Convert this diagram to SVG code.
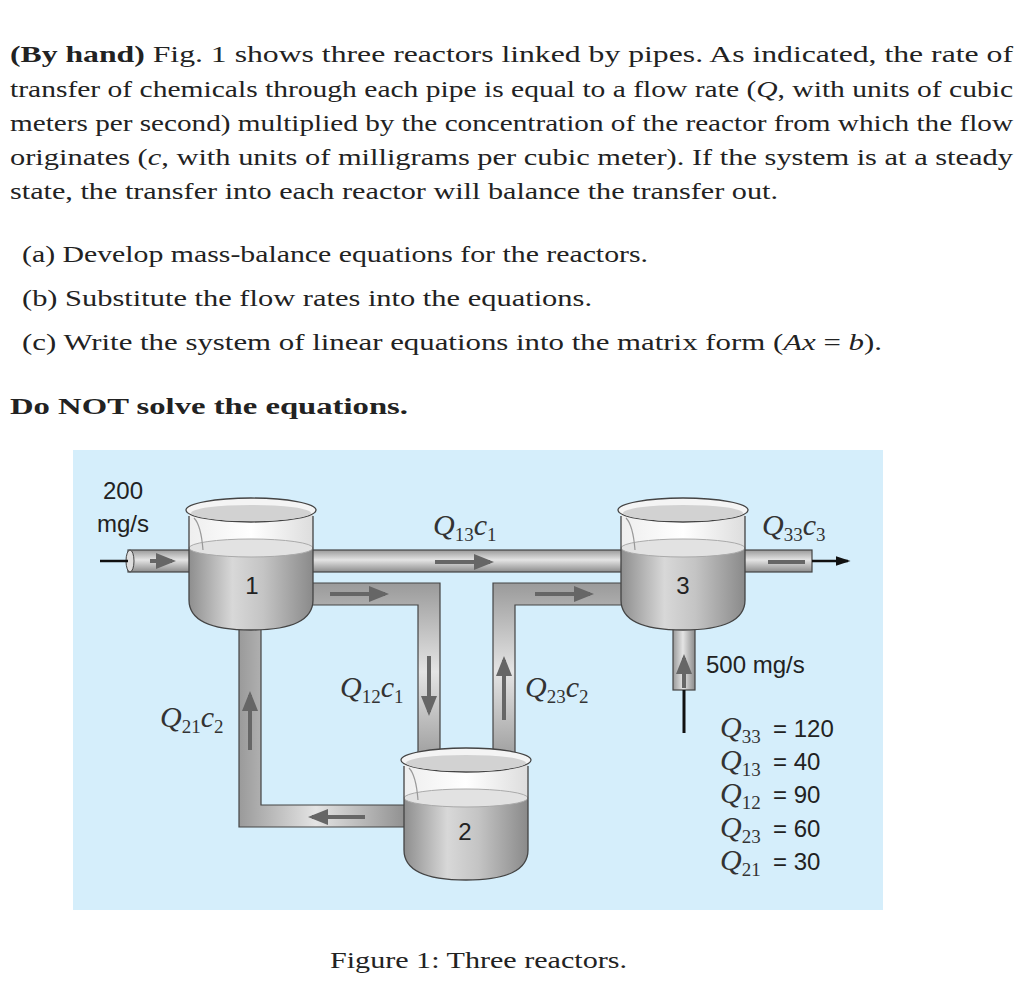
<svg xmlns="http://www.w3.org/2000/svg" width="1024" height="986" viewBox="0 0 1024 986">
<style>
.t{font-family:"Liberation Serif",serif;font-size:24px;fill:#222}
.b{font-weight:bold}
.s{font-family:"Liberation Sans",Arial,sans-serif;font-size:24px;fill:#222}
.m{font-family:"Liberation Serif",serif;font-style:italic;font-size:30px;fill:#333}
.sub{font-size:19px;font-style:normal}
.pipe{fill:url(#pg);stroke:#444;stroke-width:1.2}
.pipev{fill:url(#pgv);stroke:#444;stroke-width:1.2}
.arr{stroke:#666;stroke-width:4;fill:none;marker-end:url(#ah)}
</style>
<defs>
<linearGradient id="pg" x1="0" y1="0" x2="0" y2="1"><stop offset="0" stop-color="#9a9a9a"/><stop offset="0.45" stop-color="#e4e4e4"/><stop offset="1" stop-color="#8c8c8c"/></linearGradient>
<linearGradient id="pgv" x1="0" y1="0" x2="1" y2="0"><stop offset="0" stop-color="#9a9a9a"/><stop offset="0.45" stop-color="#e4e4e4"/><stop offset="1" stop-color="#8c8c8c"/></linearGradient>
<linearGradient id="bg" x1="0" y1="0" x2="1" y2="0"><stop offset="0" stop-color="#8e8e8e"/><stop offset="0.35" stop-color="#d8d8d8"/><stop offset="0.6" stop-color="#c4c4c4"/><stop offset="1" stop-color="#8a8a8a"/></linearGradient>
<linearGradient id="rg" x1="0" y1="0" x2="1" y2="0"><stop offset="0" stop-color="#eee"/><stop offset="0.5" stop-color="#fff"/><stop offset="1" stop-color="#ddd"/></linearGradient>
<marker id="ah" markerWidth="5" markerHeight="4" refX="4" refY="2" orient="auto" markerUnits="strokeWidth"><path d="M0,0L5,2L0,4z" fill="#666"/></marker>
<marker id="ahk" markerWidth="6" markerHeight="4" refX="5" refY="2" orient="auto" markerUnits="strokeWidth"><path d="M0,0L6,2L0,4z" fill="#111"/></marker>
<g id="beaker">
<path d="M-62,-20 L-62,18 Q0,28 62,18 L62,-20 Z" fill="url(#rg)"/>
<path d="M-62,18 L-62,70 Q-62,100 0,100 Q62,100 62,70 L62,18 Q0,28 -62,18 Z" fill="url(#bg)"/>
<ellipse cx="0" cy="18" rx="62" ry="9" fill="#e2e2e2" stroke="#aaa" stroke-width="1"/>
<path d="M-62,-14 L-62,70 Q-62,100 0,100 Q62,100 62,70 L62,-14" fill="none" stroke="#444" stroke-width="1.3"/>
<ellipse cx="0" cy="-20" rx="65" ry="12" fill="#f4f4f4" stroke="#444" stroke-width="1.3"/>
<ellipse cx="0" cy="-17" rx="60" ry="8" fill="#d2d2d2"/>
<path d="M-57,-12 Q-50,-5 -48,20" stroke="#999" fill="none" stroke-width="1.2"/>
</g>
</defs>
<rect width="1024" height="986" fill="#fff"/>
<g id="text">
<text class="t" x="10" y="62" textLength="1003" lengthAdjust="spacingAndGlyphs"><tspan class="b">(By hand)</tspan> Fig. 1 shows three reactors linked by pipes. As indicated, the rate of</text>
<text class="t" x="10" y="97" textLength="1003" lengthAdjust="spacingAndGlyphs">transfer of chemicals through each pipe is equal to a flow rate (<tspan font-style="italic">Q</tspan>, with units of cubic</text>
<text class="t" x="10" y="131" textLength="1003" lengthAdjust="spacingAndGlyphs">meters per second) multiplied by the concentration of the reactor from which the flow</text>
<text class="t" x="10" y="165" textLength="1003" lengthAdjust="spacingAndGlyphs">originates (<tspan font-style="italic">c</tspan>, with units of milligrams per cubic meter). If the system is at a steady</text>
<text class="t" x="10" y="199" textLength="768" lengthAdjust="spacingAndGlyphs">state, the transfer into each reactor will balance the transfer out.</text>
<text class="t" x="22" y="262" textLength="626" lengthAdjust="spacingAndGlyphs">(a)  Develop mass-balance equations for the reactors.</text>
<text class="t" x="22" y="306" textLength="570" lengthAdjust="spacingAndGlyphs">(b)  Substitute the flow rates into the equations.</text>
<text class="t" x="22" y="350" textLength="860" lengthAdjust="spacingAndGlyphs">(c)  Write the system of linear equations into the matrix form (<tspan font-style="italic">Ax</tspan> = <tspan font-style="italic">b</tspan>).</text>
<text class="t b" x="10" y="414" textLength="398" lengthAdjust="spacingAndGlyphs">Do NOT solve the equations.</text>
<text class="t" x="330" y="968" textLength="297" lengthAdjust="spacingAndGlyphs">Figure 1: Three reactors.</text>
</g>
<rect x="73" y="450" width="810" height="460" fill="#d5eefb"/>
<g id="connectors">
<rect class="pipe" x="128" y="550" width="66" height="22"/>
<ellipse cx="130" cy="561" rx="4" ry="11" fill="#ddd" stroke="#444"/>
<line x1="100" y1="561" x2="128" y2="561" stroke="#111" stroke-width="2.5"/>
<rect class="pipe" x="308" y="550" width="316" height="22"/>
<path class="pipe" d="M308,583 L440,583 L440,780 L418,780 L418,605 L308,605 Z"/>
<path class="pipev" d="M239,628 L261,628 L261,805 L410,805 L410,827 L239,827 Z"/>
<path class="pipe" d="M493,780 L493,583 L624,583 L624,605 L515,605 L515,780 Z"/>
<rect class="pipe" x="742" y="550" width="70" height="22"/>
<line x1="812" y1="561" x2="848" y2="561" stroke="#111" stroke-width="2.5" marker-end="url(#ahk)"/>
<rect class="pipev" x="673" y="625" width="22" height="65"/>
<line x1="684" y1="733" x2="684" y2="690" stroke="#111" stroke-width="3"/>
<line class="arr" x1="150" y1="561" x2="172" y2="561"/>
<line class="arr" x1="435" y1="562" x2="490" y2="562"/>
<line class="arr" x1="330" y1="594" x2="385" y2="594"/>
<line class="arr" x1="429" y1="656" x2="429" y2="712"/>
<line class="arr" x1="250" y1="750" x2="250" y2="695"/>
<line class="arr" x1="365" y1="817" x2="312" y2="817"/>
<line class="arr" x1="504" y1="720" x2="504" y2="660"/>
<line class="arr" x1="535" y1="594" x2="590" y2="594"/>
<line x1="768" y1="562" x2="805" y2="562" stroke="#666" stroke-width="4"/>
<line class="arr" x1="684" y1="688" x2="684" y2="658"/>
</g>
<g id="reactor1"><use href="#beaker" x="251" y="530"/><text class="s" x="252" y="594" text-anchor="middle">1</text></g>
<g id="reactor2"><use href="#beaker" x="466" y="780"/><text class="s" x="465" y="840" text-anchor="middle">2</text></g>
<g id="reactor3"><use href="#beaker" x="683" y="530"/><text class="s" x="683" y="594" text-anchor="middle">3</text></g>
<g id="labels">
<text class="s" x="103" y="499">200</text>
<text class="s" x="97" y="532">mg/s</text>
<text class="m" x="433" y="535">Q<tspan class="sub" dy="6">13</tspan><tspan dy="-6">c</tspan><tspan class="sub" dy="6">1</tspan></text>
<text class="m" x="762" y="535">Q<tspan class="sub" dy="6">33</tspan><tspan dy="-6">c</tspan><tspan class="sub" dy="6">3</tspan></text>
<text class="m" x="340" y="697">Q<tspan class="sub" dy="6">12</tspan><tspan dy="-6">c</tspan><tspan class="sub" dy="6">1</tspan></text>
<text class="m" x="525" y="697">Q<tspan class="sub" dy="6">23</tspan><tspan dy="-6">c</tspan><tspan class="sub" dy="6">2</tspan></text>
<text class="m" x="160" y="727">Q<tspan class="sub" dy="6">21</tspan><tspan dy="-6">c</tspan><tspan class="sub" dy="6">2</tspan></text>
<text class="s" x="706" y="673">500 mg/s</text>
<g class="s" font-size="27">
<text x="720" y="737"><tspan class="m">Q</tspan><tspan class="m sub" dy="6">33</tspan><tspan dy="-6" x="773">= 120</tspan></text>
<text x="720" y="770"><tspan class="m">Q</tspan><tspan class="m sub" dy="6">13</tspan><tspan dy="-6" x="773">= 40</tspan></text>
<text x="720" y="803"><tspan class="m">Q</tspan><tspan class="m sub" dy="6">12</tspan><tspan dy="-6" x="773">= 90</tspan></text>
<text x="720" y="837"><tspan class="m">Q</tspan><tspan class="m sub" dy="6">23</tspan><tspan dy="-6" x="773">= 60</tspan></text>
<text x="720" y="870"><tspan class="m">Q</tspan><tspan class="m sub" dy="6">21</tspan><tspan dy="-6" x="773">= 30</tspan></text>
</g>
</g>
</svg>
